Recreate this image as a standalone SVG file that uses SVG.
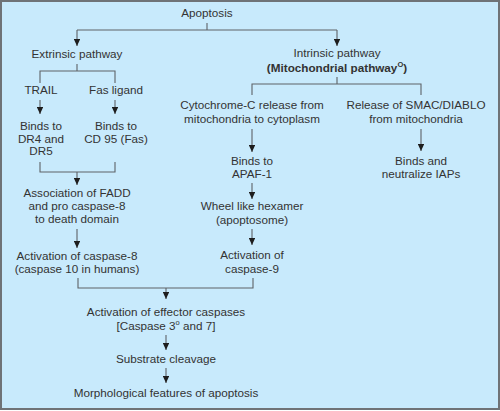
<svg xmlns="http://www.w3.org/2000/svg" width="500" height="411" viewBox="0 0 500 411">
<style>
text{font-family:"Liberation Sans",Arial,sans-serif;font-size:11.7px;fill:#333;text-anchor:middle}
.b{font-weight:bold}
.c line,.c path{stroke:#5e6266;stroke-width:1.1;fill:none}
</style>
<defs>
<marker id="ah" viewBox="0 -3.2 7 6.4" refX="7" refY="0" markerWidth="7" markerHeight="6.4" markerUnits="userSpaceOnUse" orient="auto">
<path d="M0,-3.2 L7,0 L0,3.2 z" fill="#1e1e1e"/>
</marker>
</defs>
<rect x="1" y="1" width="498" height="408" fill="#c8eafc" stroke="#6f7377" stroke-width="2"/>
<g class="c">
<path d="M207,23 V30"/>
<path d="M77,30 H337"/>
<line x1="77" y1="30" x2="77" y2="46" marker-end="url(#ah)"/>
<line x1="337" y1="30" x2="337" y2="46" marker-end="url(#ah)"/>
<path d="M77,64 V71 M40,83 V71 H115 V83"/>
<line x1="40" y1="100" x2="40" y2="114" marker-end="url(#ah)"/>
<line x1="115" y1="100" x2="115" y2="114" marker-end="url(#ah)"/>
<path d="M40,162 V172 H115 V162"/>
<line x1="77" y1="172" x2="77" y2="185" marker-end="url(#ah)"/>
<line x1="77" y1="229" x2="77" y2="248" marker-end="url(#ah)"/>
<path d="M78,278 V288 H253 V278"/>
<line x1="166" y1="288" x2="166" y2="299" marker-end="url(#ah)"/>
<line x1="166" y1="335" x2="166" y2="350" marker-end="url(#ah)"/>
<line x1="166" y1="368" x2="166" y2="383" marker-end="url(#ah)"/>
<path d="M337,77 V84 M252,95 V84 H421 V95"/>
<line x1="252" y1="129" x2="252" y2="152" marker-end="url(#ah)"/>
<line x1="421" y1="129" x2="421" y2="151" marker-end="url(#ah)"/>
<line x1="252" y1="183" x2="252" y2="199" marker-end="url(#ah)"/>
<line x1="252" y1="229" x2="252" y2="245" marker-end="url(#ah)"/>
</g>
<g id="apoptosis"><text x="207" y="17">Apoptosis</text></g>
<g id="extrinsic"><text x="77" y="58">Extrinsic pathway</text></g>
<g id="intrinsic"><text x="337" y="57">Intrinsic pathway</text><text x="337" y="72" class="b">(Mitochondrial pathway<tspan font-size="7.5" dy="-5">O</tspan><tspan dy="5">)</tspan></text></g>
<g id="trail"><text x="41" y="94">TRAIL</text></g>
<g id="fas"><text x="116" y="94">Fas ligand</text></g>
<g id="dr"><text x="41" y="130">Binds to</text><text x="41" y="143">DR4 and</text><text x="41" y="155">DR5</text></g>
<g id="cd95"><text x="116" y="130">Binds to</text><text x="116" y="143">CD 95 (Fas)</text></g>
<g id="fadd"><text x="77" y="197">Association of FADD</text><text x="77" y="210">and pro caspase-8</text><text x="77" y="223">to death domain</text></g>
<g id="casp8"><text x="77" y="260">Activation of caspase-8</text><text x="77" y="273">(caspase 10 in humans)</text></g>
<g id="cytc"><text x="252" y="109">Cytochrome-C release from</text><text x="252" y="123">mitochondria to cytoplasm</text></g>
<g id="smac"><text x="416" y="109">Release of SMAC/DIABLO</text><text x="416" y="123">from mitochondria</text></g>
<g id="apaf"><text x="252" y="165">Binds to</text><text x="252" y="178">APAF-1</text></g>
<g id="iaps"><text x="421" y="165">Binds and</text><text x="421" y="178">neutralize IAPs</text></g>
<g id="hexamer"><text x="252" y="210">Wheel like hexamer</text><text x="252" y="224">(apoptosome)</text></g>
<g id="casp9"><text x="252" y="259">Activation of</text><text x="252" y="273">caspase-9</text></g>
<g id="effector"><text x="166" y="316">Activation of effector caspases</text><text x="166" y="330">[Caspase 3<tspan font-size="7.5" dy="-5">o</tspan><tspan dy="5"> and 7]</tspan></text></g>
<g id="substrate"><text x="166" y="363">Substrate cleavage</text></g>
<g id="morph"><text x="166" y="397">Morphological features of apoptosis</text></g>
</svg>
